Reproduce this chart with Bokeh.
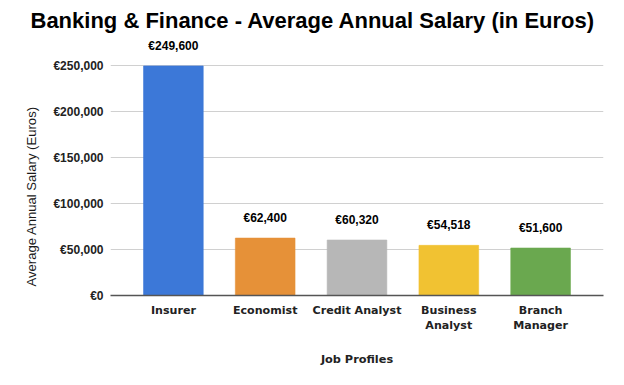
from bokeh.plotting import figure
from bokeh.models import FactorRange, Range1d, FixedTicker, ColumnDataSource, Title
from bokeh.embed import file_html
from bokeh.resources import INLINE
from bokeh.core.properties import value

categories = ["Insurer", "Economist", "Credit Analyst", "Business\nAnalyst", "Branch\nManager"]
salaries = [249600, 62400, 60320, 54518, 51600]
colors = ["#3c78d8", "#e69138", "#b7b7b7", "#f1c232", "#6aa84f"]
y_ticks = [0, 50000, 100000, 150000, 200000, 250000]
y_tick_labels = ["€0", "€50,000", "€100,000", "€150,000", "€200,000", "€250,000"]
bar_labels = ["€{:,}".format(v) for v in salaries]
y_title = "Average Annual Salary (Euros)"

src = ColumnDataSource(dict(cat=categories, val=salaries, col=colors, lab=bar_labels))

p = figure(width=608, height=369, output_backend="svg", toolbar_location=None,
           x_range=FactorRange(factors=categories, range_padding=0.185, range_padding_units="absolute"),
           y_range=Range1d(0, 280500),
           title="Banking & Finance - Average Annual Salary (in Euros)")

p.vbar(x="cat", top="val", width=0.65, source=src, fill_color="col", line_color="col", line_alpha=0.6)
p.text(x="cat", y="val", text="lab", source=src, text_align="center", text_baseline="bottom",
       y_offset=-13, text_font=value("Liberation Sans"), text_font_style="bold",
       text_font_size="12px", text_color="#000000")

p.title.text_font = "Liberation Sans"
p.title.text_font_size = "22px"
p.title.text_font_style = "bold"
p.title.align = "left"
p.title.offset = -80
p.title.text_color = "#000000"

ylab = Title(text=y_title, align="left", offset=9, standoff=24, text_font="Liberation Sans",
             text_font_style="normal", text_font_size="13.1px", text_color="#1a1a1a")

p.yaxis.ticker = FixedTicker(ticks=y_ticks)
p.yaxis.major_label_overrides = dict(zip(y_ticks, y_tick_labels))
p.yaxis.major_label_text_font = "Liberation Sans"
p.yaxis.major_label_text_font_style = "bold"
p.yaxis.major_label_text_font_size = "12px"
p.yaxis.major_label_text_color = "#222222"
p.yaxis.axis_line_color = None
p.yaxis.major_tick_line_color = None
p.yaxis.minor_tick_line_color = None
p.yaxis.major_tick_out = 0
p.yaxis.major_tick_in = 0
p.yaxis.major_label_standoff = 7
p.add_layout(ylab, "left")

p.xaxis.axis_line_color = "#555555"
p.xaxis.axis_line_width = 1.5
p.xaxis.major_tick_line_color = None
p.xaxis.minor_tick_line_color = None
p.xaxis.major_label_text_font = "DejaVu Sans"
p.xaxis.major_label_text_font_style = "bold"
p.xaxis.major_label_text_font_size = "11.1px"
p.xaxis.major_label_text_color = "#222222"
p.xaxis.major_label_standoff = 2
p.xaxis.axis_label = "Job Profiles"
p.xaxis.axis_label_text_font = "DejaVu Sans"
p.xaxis.axis_label_text_font_style = "bold"
p.xaxis.axis_label_text_font_size = "11.3px"
p.xaxis.axis_label_text_color = "#222222"
p.xaxis.axis_label_standoff = 18

p.xgrid.grid_line_color = None
p.ygrid.grid_line_color = "#d0d0d0"
p.outline_line_color = None
p.min_border_left = 110
p.min_border_right = 5
p.min_border_bottom = 70

open("out.html", "w").write(file_html(p, INLINE))
